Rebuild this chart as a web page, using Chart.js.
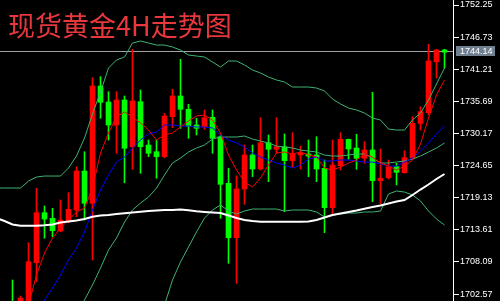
<!DOCTYPE html>
<html>
<head>
<meta charset="utf-8">
<script src="https://cdn.jsdelivr.net/npm/chart.js@4.4.1/dist/chart.umd.min.js"></script>
<style>
	html, body { margin: 0; padding: 0; background: #000; }
	#chart_gold { display: block; background: #000; }
</style>
</head>
<body>
<canvas id="chart_gold" width="500" height="301"></canvas>
<script>
(function () {

	'use strict';

	/* =========== Data (4H bars, two leading slots at the left edge) ================= */
	var bars = [-2, -1, 0, 1, 2, 3, 4, 5, 6, 7, 8, 9, 10, 11, 12, 13, 14, 15, 16, 17, 18, 19,
		20, 21, 22, 23, 24, 25, 26, 27, 28, 29, 30, 31, 32, 33, 34, 35, 36, 37, 38, 39,
		40, 41, 42, 43, 44, 45, 46, 47, 48, 49, 50, 51, 52, 53, 54];

	var opens = [null, null,
		1701.00, 1700.60, 1701.30, 1707.95, 1716.55, 1715.58, 1713.40, 1715.17, 1717.01, 1723.71,
		1718.16, 1738.33, 1735.58, 1731.62, 1735.92, 1727.89, 1735.63, 1728.18, 1727.03, 1726.17,
		1733.05, 1736.61, 1734.32, 1731.62, 1731.33, 1732.95, 1729.61, 1721.60, 1712.25, 1720.62,
		1726.47, 1724.06, 1728.58, 1727.45, 1727.89, 1725.49, 1726.47, 1726.64, 1726.47, 1724.18,
		1717.41, 1724.63, 1729.16, 1727.67, 1725.90, 1727.33, 1722.05, 1722.56, 1724.45, 1723.42,
		1725.90, 1731.91, 1733.74, 1742.50, 1744.52];
	var highs = [null, null,
		1704.98, 1702.23, 1711.39, 1720.74, 1717.70, 1717.30, 1718.73, 1719.98, 1724.45, 1727.03,
		1739.75, 1739.93, 1737.35, 1737.35, 1736.61, 1744.64, 1737.64, 1729.04, 1729.04, 1733.63,
		1737.76, 1742.92, 1735.18, 1732.77, 1734.20, 1734.20, 1729.80, 1724.18, 1722.86, 1728.18,
		1728.18, 1732.88, 1729.90, 1732.88, 1730.08, 1730.30, 1728.01, 1729.04, 1729.61, 1725.61,
		1729.04, 1730.30, 1729.20, 1730.02, 1728.75, 1737.24, 1727.50, 1725.61, 1725.04, 1727.20,
		1733.05, 1734.77, 1745.50, 1744.60, 1744.64];
	var lows = [null, null,
		1698.80, 1699.90, 1700.20, 1704.68, 1712.15, 1712.42, 1713.28, 1714.83, 1715.86, 1715.29,
		1708.41, 1732.77, 1729.04, 1726.76, 1721.70, 1724.01, 1723.32, 1726.17, 1722.46, 1726.00,
		1731.16, 1731.06, 1729.34, 1729.90, 1730.88, 1726.76, 1715.58, 1707.85, 1704.41, 1717.99,
		1722.74, 1723.90, 1721.88, 1726.76, 1716.72, 1724.35, 1724.06, 1722.74, 1721.88, 1713.11,
		1716.15, 1723.89, 1725.73, 1724.01, 1725.04, 1718.44, 1718.04, 1722.34, 1721.31, 1723.37,
		1725.80, 1730.76, 1733.34, 1739.70, 1741.42];
	var closes = [null, null,
		1699.60, 1701.88, 1708.12, 1716.55, 1715.46, 1713.45, 1715.29, 1717.13, 1723.71, 1718.16,
		1738.33, 1735.52, 1731.62, 1735.92, 1727.62, 1735.75, 1727.89, 1726.76, 1726.17, 1733.17,
		1736.61, 1734.32, 1731.45, 1731.06, 1732.88, 1729.34, 1721.43, 1712.25, 1720.62, 1726.47,
		1724.06, 1728.58, 1727.45, 1727.89, 1725.49, 1726.64, 1726.76, 1726.29, 1724.06, 1717.41,
		1724.75, 1729.16, 1727.50, 1725.90, 1727.33, 1722.05, 1722.46, 1724.45, 1723.49, 1726.00,
		1731.91, 1733.91, 1742.62, 1744.52, 1744.14];

	// Bollinger bands
	var bollUpper = [1720.79, 1720.79,
		1720.79, 1720.79, 1721.99, 1722.68, 1722.85, 1722.85, 1722.85, 1724.23, 1726.29, 1729.39,
		1733.51, 1737.29, 1741.42, 1742.80, 1743.31, 1745.72, 1746.06, 1745.72, 1745.37, 1745.37,
		1745.03, 1744.51, 1743.65, 1743.48, 1743.31, 1742.45, 1741.59, 1742.62, 1742.62, 1741.94,
		1741.08, 1740.56, 1739.87, 1739.36, 1739.01, 1738.15, 1738.15, 1738.15, 1737.98, 1737.47,
		1736.09, 1735.23, 1734.54, 1734.20, 1733.68, 1732.82, 1732.48, 1730.93, 1730.76, 1730.76,
		1732.48, 1733.68, 1735.92, 1738.67, 1741.42];
	var bollMid = [1685.50, 1686.50,
		1687.50, 1688.50, 1689.50, 1690.50, 1691.50, 1692.70, 1694.00, 1695.52, 1698.44, 1701.54,
		1704.12, 1707.04, 1710.13, 1712.20, 1714.95, 1717.01, 1718.21, 1719.24, 1720.79, 1723.03,
		1725.09, 1725.95, 1726.98, 1727.67, 1728.18, 1729.21, 1729.56, 1729.56, 1729.56, 1729.73,
		1729.21, 1728.87, 1728.53, 1728.01, 1727.84, 1727.67, 1727.32, 1727.15, 1726.98, 1726.46,
		1726.29, 1726.29, 1726.46, 1726.64, 1726.64, 1725.95, 1725.09, 1725.09, 1725.26, 1725.43,
		1725.78, 1726.29, 1726.98, 1727.67, 1728.53];
	var bollLower = [1660.00, 1661.00,
		1662.00, 1663.00, 1664.00, 1665.00, 1666.00, 1667.00, 1667.00, 1666.80, 1670.60, 1673.70,
		1674.70, 1676.80, 1678.80, 1681.60, 1686.60, 1688.30, 1690.40, 1692.60, 1696.50, 1700.68,
		1704.98, 1708.07, 1710.65, 1713.23, 1715.63, 1717.01, 1717.87, 1716.84, 1716.32, 1716.84,
		1717.18, 1717.18, 1717.18, 1717.18, 1716.84, 1717.01, 1717.01, 1717.01, 1716.67, 1715.81,
		1716.15, 1716.32, 1716.49, 1716.49, 1716.67, 1716.67, 1716.84, 1719.76, 1720.28, 1720.10,
		1719.59, 1718.56, 1716.84, 1715.46, 1714.43];

	// moving averages
	var maFast = [1695.00, 1696.00,
		1697.00, 1698.50, 1700.68, 1705.83, 1709.62, 1712.20, 1713.91, 1715.29, 1716.67, 1717.35,
		1720.79, 1726.81, 1730.25, 1733.00, 1733.86, 1733.00, 1731.97, 1730.76, 1729.04, 1729.90,
		1730.25, 1731.28, 1732.31, 1733.17, 1733.34, 1732.48, 1730.25, 1726.46, 1723.89, 1721.82,
		1720.96, 1722.51, 1724.74, 1726.81, 1726.98, 1726.64, 1726.98, 1726.46, 1726.12, 1724.23,
		1723.89, 1724.40, 1725.09, 1725.60, 1726.64, 1726.12, 1725.09, 1724.57, 1723.89, 1724.57,
		1725.60, 1728.35, 1732.82, 1736.78, 1739.36];
	var maMid = [1690.00, 1691.00,
		1692.50, 1694.00, 1696.00, 1698.50, 1701.54, 1703.60, 1705.83, 1708.41, 1710.48, 1713.23,
		1717.01, 1720.45, 1723.03, 1725.26, 1726.12, 1727.67, 1729.04, 1730.07, 1730.42, 1731.62,
		1731.62, 1731.45, 1731.45, 1731.28, 1731.28, 1731.11, 1729.90, 1729.04, 1728.53, 1727.84,
		1726.81, 1726.12, 1725.60, 1725.09, 1724.74, 1724.23, 1724.74, 1725.78, 1726.12, 1725.43,
		1725.43, 1725.60, 1725.60, 1725.43, 1725.26, 1725.26, 1724.92, 1724.57, 1724.57, 1725.26,
		1725.95, 1727.15, 1728.53, 1730.07, 1731.45];
	var maSlow = [1715.63, 1715.12,
		1714.52, 1714.31, 1714.31, 1714.31, 1714.38, 1714.52, 1714.86, 1715.03, 1715.20, 1715.46,
		1715.86, 1716.06, 1716.15, 1716.32, 1716.44, 1716.58, 1716.72, 1716.84, 1716.92, 1717.01,
		1717.01, 1717.09, 1716.96, 1716.79, 1716.67, 1716.58, 1716.49, 1716.06, 1715.63, 1715.29,
		1715.12, 1715.00, 1715.00, 1715.00, 1715.00, 1715.00, 1715.00, 1715.03, 1715.29, 1715.72,
		1716.15, 1716.41, 1716.67, 1716.92, 1717.23, 1717.52, 1717.78, 1718.13, 1718.47, 1718.73,
		1719.59, 1720.53, 1721.39, 1722.34, 1723.20];

	// right axis
	var priceTicks = [1752.25, 1746.73, 1741.21, 1735.69, 1730.17, 1724.65, 1719.13, 1713.61, 1708.09, 1702.57];
	var priceMin = 1701.37;
	var priceMax = 1753.11;
	var chartTitle = '现货黄金4H走势图';
	/* ------------------------------------------------ */

	var UP = '#ff0000', DOWN = '#00ff00', BAND = '#3cb371';

	function points(arr) {
		return arr.map(function (v, k) { return { x: bars[k], y: v }; });
	}
	var bodies = [], wicks = [], colors = [];
	for (var k = 0; k < bars.length; k++) {
		if (opens[k] === null) continue;
		bodies.push({ x: bars[k], y: [opens[k], closes[k]] });
		wicks.push({ x: bars[k], y: [lows[k], highs[k]] });
		colors.push(closes[k] >= opens[k] ? UP : DOWN);
	}
	var lastClose = closes[closes.length - 1];

	function lineSet(data, color, width) {
		return {
			type: 'line',
			data: points(data),
			borderColor: color,
			borderWidth: width,
			pointRadius: 0,
			tension: 0,
			fill: false,
			order: 0
		};
	}

	/* =========== Title, last price line and price tag ================= */
	var overlay = {
		id: 'overlay',
		beforeDatasetsDraw: function (chart) {
			var ctx = chart.ctx, area = chart.chartArea;
			var y = Math.round(chart.scales.y.getPixelForValue(lastClose)) - 0.5;
			ctx.save();
			ctx.strokeStyle = '#a0a0a8';
			ctx.lineWidth = 1;
			ctx.beginPath();
			ctx.moveTo(area.left, y);
			ctx.lineTo(area.right, y);
			ctx.stroke();
			ctx.restore();
		},
		afterDraw: function (chart) {
			var ctx = chart.ctx, area = chart.chartArea;
			var y = Math.round(chart.scales.y.getPixelForValue(lastClose)) - 1;
			ctx.save();
			ctx.fillStyle = '#708090';
			ctx.fillRect(area.right + 3, y - 5, 39, 10);
			ctx.fillStyle = '#ffffff';
			ctx.font = '9px "Liberation Sans", Arial, sans-serif';
			ctx.textBaseline = 'middle';
			ctx.textAlign = 'left';
			ctx.fillText(lastClose.toFixed(2), area.right + 7, y + 0.5);

			ctx.fillStyle = '#e8383d';
			ctx.font = '27px "Noto Sans CJK SC", sans-serif';
			ctx.fillText(chartTitle, 8, 26);
			ctx.restore();
		}
	};
	/* ------------------------------------------------ */

	var chart_gold = new Chart(document.getElementById('chart_gold'), {
		type: 'bar',
		data: {
			datasets: [
				lineSet(maSlow, '#ffffff', 2),
				lineSet(maFast, '#ff0000', 1),
				lineSet(maMid, '#0000ff', 1),
				lineSet(bollUpper, BAND, 1),
				lineSet(bollMid, BAND, 1),
				lineSet(bollLower, BAND, 1),
				{
					data: bodies,
					backgroundColor: colors,
					borderWidth: 0,
					barThickness: 5,
					minBarLength: 1,
					grouped: false,
					order: 1
				},
				{
					data: wicks,
					backgroundColor: colors,
					borderWidth: 0,
					barThickness: 1,
					minBarLength: 1,
					grouped: false,
					order: 2
				}
			]
		},
		options: {
			responsive: false,
			devicePixelRatio: 1,
			animation: false,
			events: [],
			layout: { padding: 0 },
			plugins: {
				legend: { display: false },
				tooltip: { enabled: false }
			},
			scales: {
				x: {
					type: 'linear',
					display: false,
					offset: false,
					min: -1.5625,
					max: 55.0625
				},
				y: {
					position: 'right',
					min: priceMin,
					max: priceMax,
					afterBuildTicks: function (scale) {
						scale.ticks = priceTicks.map(function (v) { return { value: v }; });
					},
					afterFit: function (scale) {
						scale.width = 47;
						scale.paddingTop = 0;
						scale.paddingBottom = 0;
					},
					ticks: {
						color: '#ffffff',
						padding: 1,
						font: { family: '"Liberation Sans", Arial, sans-serif', size: 9 },
						callback: function (v) { return Number(v).toFixed(2); }
					},
					grid: {
						drawOnChartArea: false,
						drawTicks: true,
						tickLength: 6,
						color: '#ffffff'
					},
					border: { color: '#ffffff', width: 1 }
				}
			}
		},
		plugins: [overlay]
	});

})();
</script>
</body>
</html>
